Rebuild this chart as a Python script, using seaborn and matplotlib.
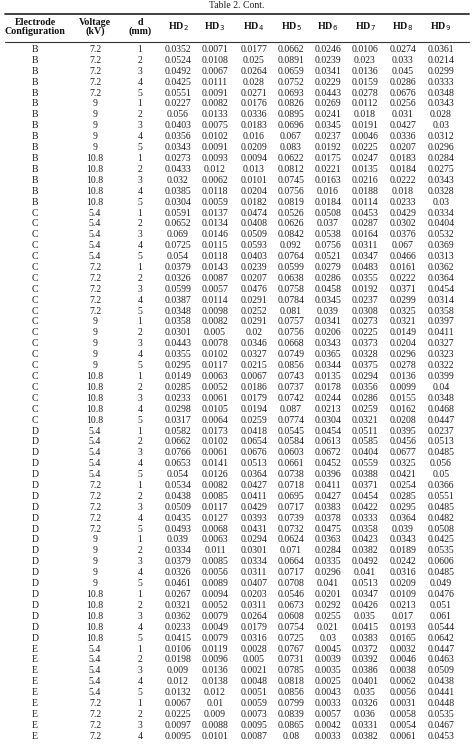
import matplotlib
matplotlib.use("Agg")
import matplotlib.pyplot as plt
import seaborn as sns

sns.set_style("white")
plt.rcParams['font.family'] = ['Liberation Serif', 'DejaVu Serif']

config = ["B"]*15 + ["C"]*20 + ["D"]*20 + ["E"]*9
volt_B = ["7.2"]*5 + ["9"]*5 + ["10.8"]*5
volt_CD = ["5.4"]*5 + ["7.2"]*5 + ["9"]*5 + ["10.8"]*5
volt_E = ["5.4"]*5 + ["7.2"]*4
voltage = volt_B + volt_CD + volt_CD + volt_E
dmm = (["1","2","3","4","5"]*13)[:64]

HD2 = ["0.0352","0.0524","0.0492","0.0425","0.0551","0.0227","0.056","0.0403","0.0356","0.0343","0.0273","0.0433","0.032","0.0385","0.0304",
       "0.0591","0.0652","0.069","0.0725","0.054","0.0379","0.0326","0.0599","0.0387","0.0348","0.0358","0.0301","0.0443","0.0355","0.0295","0.0149","0.0285","0.0233","0.0298","0.0317",
       "0.0582","0.0662","0.0766","0.0653","0.054","0.0534","0.0438","0.0509","0.0435","0.0493","0.039","0.0334","0.0379","0.0326","0.0461","0.0267","0.0321","0.0362","0.0233","0.0415",
       "0.0106","0.0198","0.009","0.012","0.0132","0.0067","0.0225","0.0097","0.0095"]
HD3 = ["0.0071","0.0108","0.0067","0.0111","0.0091","0.0082","0.0133","0.0075","0.0102","0.0091","0.0093","0.012","0.0062","0.0118","0.0059",
       "0.0137","0.0134","0.0146","0.0115","0.0118","0.0143","0.0087","0.0057","0.0114","0.0098","0.0082","0.005","0.0078","0.0102","0.0117","0.0063","0.0052","0.0061","0.0105","0.0064",
       "0.0173","0.0102","0.0061","0.0141","0.0126","0.0082","0.0085","0.0117","0.0127","0.0068","0.0063","0.011","0.0085","0.0056","0.0089","0.0094","0.0052","0.0079","0.0049","0.0079",
       "0.0119","0.0096","0.0136","0.0138","0.012","0.01","0.009","0.0088","0.0101"]
HD4 = ["0.0177","0.025","0.0264","0.028","0.0271","0.0176","0.0336","0.0183","0.016","0.0209","0.0094","0.013","0.0101","0.0204","0.0182",
       "0.0474","0.0408","0.0509","0.0593","0.0403","0.0239","0.0207","0.0476","0.0291","0.0252","0.0291","0.02","0.0346","0.0327","0.0215","0.0067","0.0186","0.0179","0.0194","0.0259",
       "0.0418","0.0654","0.0676","0.0513","0.0364","0.0427","0.0411","0.0429","0.0393","0.0431","0.0294","0.0301","0.0334","0.0311","0.0407","0.0203","0.0311","0.0264","0.0179","0.0316",
       "0.0028","0.005","0.0021","0.0048","0.0051","0.0059","0.0073","0.0095","0.0087"]
HD5 = ["0.0662","0.0891","0.0659","0.0752","0.0693","0.0826","0.0895","0.0696","0.067","0.083","0.0622","0.0812","0.0745","0.0756","0.0819",
       "0.0526","0.0626","0.0842","0.092","0.0764","0.0599","0.0638","0.0758","0.0784","0.081","0.0757","0.0756","0.0668","0.0749","0.0856","0.0743","0.0737","0.0742","0.087","0.0774",
       "0.0545","0.0584","0.0603","0.0661","0.0738","0.0718","0.0695","0.0717","0.0739","0.0732","0.0624","0.071","0.0664","0.0717","0.0708","0.0546","0.0673","0.0608","0.0754","0.0725",
       "0.0767","0.0731","0.0785","0.0818","0.0856","0.0799","0.0839","0.0865","0.08"]
HD6 = ["0.0246","0.0239","0.0341","0.0229","0.0443","0.0269","0.0241","0.0345","0.0237","0.0192","0.0175","0.0221","0.0163","0.016","0.0184",
       "0.0508","0.037","0.0538","0.0756","0.0521","0.0279","0.0286","0.0458","0.0345","0.039","0.0341","0.0206","0.0343","0.0365","0.0344","0.0135","0.0178","0.0244","0.0213","0.0304",
       "0.0454","0.0613","0.0672","0.0452","0.0396","0.0411","0.0427","0.0383","0.0378","0.0475","0.0363","0.0284","0.0335","0.0296","0.041","0.0201","0.0292","0.0255","0.021","0.03",
       "0.0045","0.0039","0.0035","0.0025","0.0043","0.0033","0.0057","0.0042","0.0033"]
HD7 = ["0.0106","0.023","0.0136","0.0159","0.0278","0.0112","0.018","0.0191","0.0046","0.0225","0.0247","0.0135","0.0216","0.0188","0.0114",
       "0.0453","0.0287","0.0164","0.0311","0.0347","0.0483","0.0355","0.0192","0.0237","0.0308","0.0273","0.0225","0.0373","0.0328","0.0375","0.0294","0.0356","0.0286","0.0259","0.0321",
       "0.0511","0.0585","0.0404","0.0559","0.0388","0.0371","0.0454","0.0422","0.0333","0.0358","0.0423","0.0382","0.0492","0.041","0.0513","0.0347","0.0426","0.035","0.0415","0.0383",
       "0.0372","0.0392","0.0386","0.0401","0.035","0.0326","0.036","0.0331","0.0382"]
HD8 = ["0.0274","0.033","0.045","0.0286","0.0676","0.0256","0.031","0.0427","0.0336","0.0207","0.0183","0.0184","0.0222","0.018","0.0233",
       "0.0429","0.0302","0.0376","0.067","0.0466","0.0161","0.0222","0.0371","0.0299","0.0325","0.0321","0.0149","0.0204","0.0296","0.0278","0.0136","0.0099","0.0155","0.0162","0.0208",
       "0.0395","0.0456","0.0677","0.0325","0.0421","0.0254","0.0285","0.0295","0.0364","0.039","0.0343","0.0189","0.0242","0.0316","0.0209","0.0109","0.0213","0.017","0.0193","0.0165",
       "0.0032","0.0046","0.0038","0.0062","0.0056","0.0031","0.0058","0.0054","0.0061"]
HD9 = ["0.0361","0.0214","0.0299","0.0333","0.0348","0.0343","0.028","0.03","0.0312","0.0296","0.0284","0.0275","0.0343","0.0328","0.03",
       "0.0334","0.0404","0.0532","0.0369","0.0313","0.0362","0.0364","0.0454","0.0314","0.0358","0.0397","0.0411","0.0327","0.0323","0.0322","0.0399","0.04","0.0348","0.0468","0.0447",
       "0.0237","0.0513","0.0485","0.056","0.05","0.0366","0.0551","0.0485","0.0482","0.0508","0.0425","0.0535","0.0606","0.0485","0.049","0.0476","0.051","0.061","0.0544","0.0642",
       "0.0447","0.0463","0.0509","0.0438","0.0441","0.0448","0.0535","0.0467","0.0453"]

columns = [config, voltage, dmm, HD2, HD3, HD4, HD5, HD6, HD7, HD8, HD9]
headers = ["Electrode\nConfiguration", "Voltage\n(kV)", "d\n(mm)",
           r"HD$_2$", r"HD$_3$", r"HD$_4$", r"HD$_5$", r"HD$_6$", r"HD$_7$", r"HD$_8$", r"HD$_9$"]
col_x = [35, 95, 140, 178, 215, 254, 291, 328, 365, 403, 441]

W, H = 474, 745
fig = plt.figure(figsize=(W/100, H/100), dpi=100)
ax = fig.add_axes([0, 0, 1, 1])
ax.set_xlim(0, W)
ax.set_ylim(H, 0)
ax.axis("off")

y0, dy = 49.5, 10.9
fs = 7.0
ax.text(W/2, 1, "Table 2. Cont.", ha="center", va="top", fontsize=7, color="#222")
for x, h in zip(col_x, headers):
    ax.text(x, 27, h, ha="center", va="center", fontsize=7.2, fontweight="bold",
            linespacing=1.0, color="#111")
ax.plot([5, 469], [14, 14], color="#333", lw=1.3)
ax.plot([5, 469], [41.5, 41.5], color="#333", lw=0.8)
for x, col in zip(col_x, columns):
    for i, v in enumerate(col):
        ax.text(x, y0 + i*dy, v, ha="center", va="center", fontsize=fs, color="#222")

fig.savefig("out.png", dpi=100)
